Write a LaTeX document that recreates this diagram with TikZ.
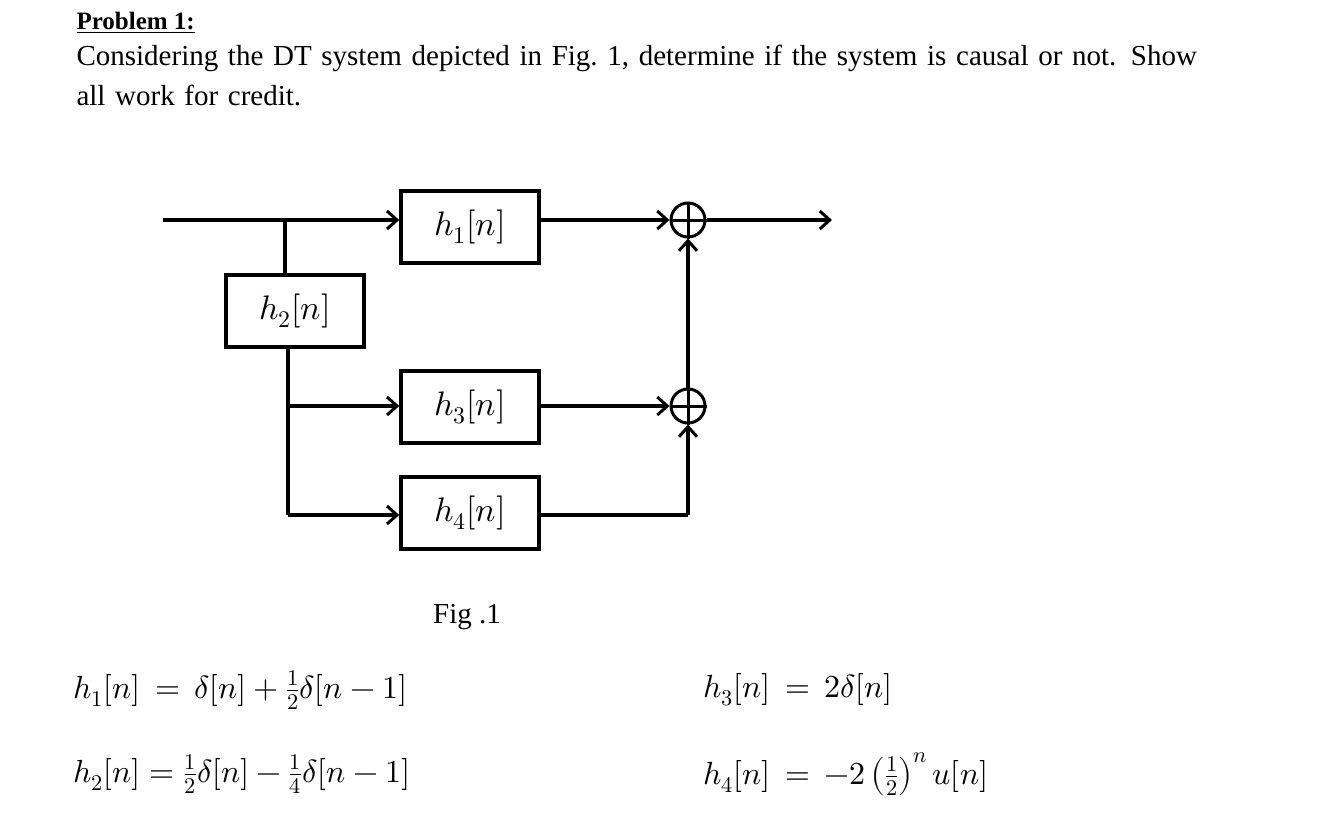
\documentclass[tikz,border=0pt]{standalone}
\usepackage{amsmath}
\usepackage{fontspec}
\usepackage{unicode-math}
\setmainfont{Liberation Serif}
\setmathfont{Latin Modern Math}
\usetikzlibrary{arrows.meta}
\begin{document}
\begin{tikzpicture}[x=1pt,y=-1pt,
    blk/.style = {draw, line width=3.5pt, minimum width=138pt, minimum height=72pt, inner sep=0pt, font=\fontsize{34}{34}\selectfont},
    sum/.style = {draw, circle, line width=3pt, minimum size=34pt, inner sep=0pt},
    sig/.style = {line width=3.5pt, -{Straight Barb[length=10pt,width=18pt,line width=3pt]}},
    wire/.style = {line width=3.5pt}]
    \useasboundingbox (0,0) rectangle (1324,820);

    % heading and question
    \node[anchor=west, font=\fontsize{25}{25}\selectfont\bfseries] (title) at (73,23) {\underline{Problem 1:}};
    \node[anchor=north west, align=left, text width=1220pt, font=\fontsize{29}{40}\selectfont] (text) at (73,42)
        {Considering the DT system depicted in Fig.~1, determine if the system is causal or not. Show\\all work for credit.};

    % blocks
    \node[blk] (h1) at (470,227) {$h_1[n]$};
    \node[blk] (h2) at (295,311) {$h_2[n]$};
    \node[blk] (h3) at (470,407) {$h_3[n]$};
    \node[blk] (h4) at (470,513) {$h_4[n]$};
    \node[sum] (s1) at (688,220) {};
    \node[sum] (s2) at (688,406) {};
    \draw[line width=3pt] (s1.north) -- (s1.south) (s1.west) -- (s1.east);
    \draw[line width=3pt] (s2.north) -- (s2.south) (s2.west) -- (s2.east);

    \coordinate (in) at (163,220);
    \coordinate (out) at (832,220);
    \coordinate (br1) at (285,220);
    \coordinate (br2) at (288,406);
    \coordinate (br3) at (288,515);
    \coordinate (c4) at (688,515);

    % connections
    \draw[sig] (in) -- (h1.west |- in);
    \draw[wire] (br1) -- (br1 |- h2.north);
    \draw[sig] (h1.east |- s1) -- (s1.west);
    \draw[sig] (s1.east) -- (out);
    \draw[wire] (br2 |- h2.south) -- (br3);
    \draw[sig] (br2) -- (h3.west |- br2);
    \draw[sig] (br3) -- (h4.west |- br3);
    \draw[sig] (h3.east |- s2) -- (s2.west);
    \draw[wire] (h4.east |- c4) -- (c4);
    \draw[sig] (c4) -- (s2.south);
    \draw[sig] (s2.north) -- (s1.south);

    \node[font=\fontsize{29}{29}\selectfont] (cap) at (467,617) {Fig .1};

    % impulse responses
    \begin{scope}[every node/.style={anchor=west, font=\fontsize{32}{32}\selectfont}]
        \node (e1) at (70,690) {$h_1[n] \,=\, \delta[n] + \tfrac{1}{2}\delta[n-1]$};
        \node (e2) at (70,774) {$h_2[n] = \tfrac{1}{2}\delta[n] - \tfrac{1}{4}\delta[n-1]$};
        \node (e3) at (700,690) {$h_3[n] \,=\, 2\delta[n]$};
        \node (e4) at (700,774) {$h_4[n] \,=\, -2\left(\tfrac{1}{2}\right)^{n} u[n]$};
    \end{scope}
\end{tikzpicture}
\end{document}
